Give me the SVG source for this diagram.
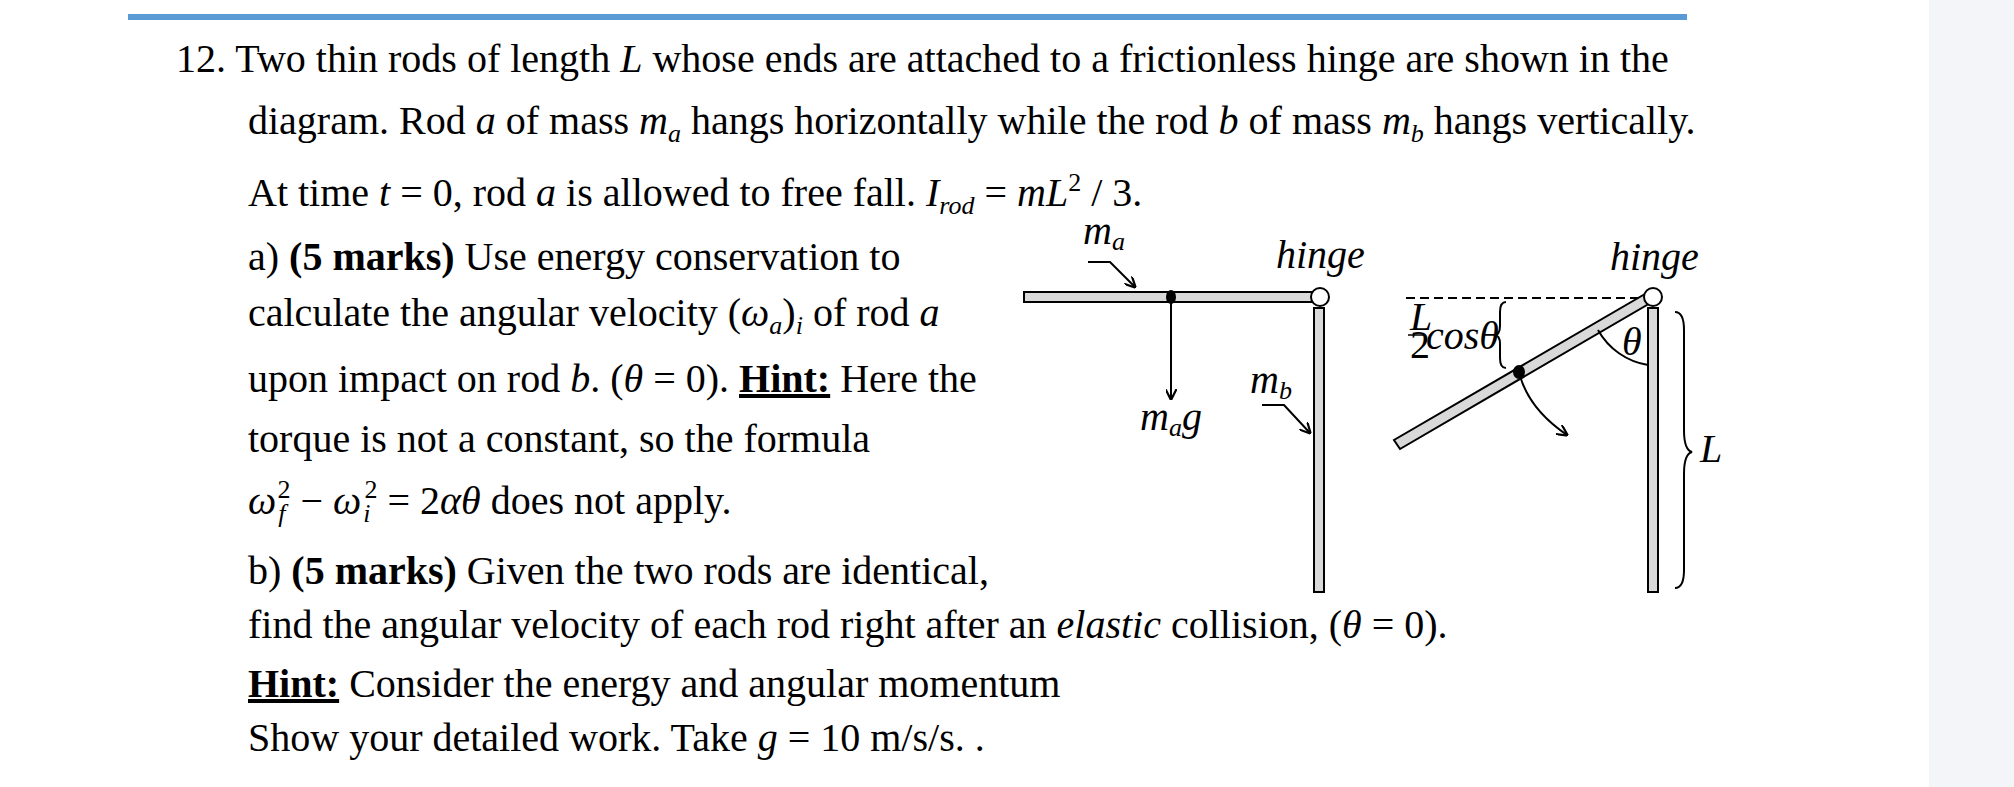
<svg xmlns="http://www.w3.org/2000/svg" width="2014" height="787" viewBox="0 0 2014 787">
<style>
.t{font-family:"Liberation Serif",serif;font-size:40px;fill:#000}
.i{font-style:italic}
.b{font-weight:bold}
.s{font-size:26px}
.d{font-family:"Liberation Serif",serif;font-style:italic;font-size:40px;fill:#000}
.rod{fill:#d9d9d9;stroke:#000;stroke-width:2}
.ln{fill:none;stroke:#000;stroke-width:2}
</style>
<defs>
<marker id="ah" viewBox="0 0 10 10" refX="9" refY="5" markerWidth="11" markerHeight="11" orient="auto" markerUnits="userSpaceOnUse"><path d="M0,0 L10,5 L0,10" fill="none" stroke="#000" stroke-width="2"/></marker>
</defs>
<rect width="2014" height="787" fill="#fff"/>
<rect x="1929" y="0" width="85" height="787" fill="#f3f5f9"/>
<rect x="128" y="14" width="1559" height="6" fill="#5b9bd5"/>
<g id="text">
<text class="t" x="176" y="72">12. Two thin rods of length <tspan class="i">L</tspan> whose ends are attached to a frictionless hinge are shown in the</text>
<text class="t" x="248" y="134">diagram. Rod <tspan class="i">a</tspan> of mass <tspan class="i">m</tspan><tspan class="i s" dy="8">a</tspan><tspan dy="-8">  hangs horizontally while the rod </tspan><tspan class="i">b</tspan> of mass <tspan class="i">m</tspan><tspan class="i s" dy="8">b</tspan><tspan dy="-8">  hangs vertically.</tspan></text>
<text class="t" x="248" y="206">At time <tspan class="i">t</tspan> = 0,  rod <tspan class="i">a</tspan> is allowed to free fall. <tspan class="i">I</tspan><tspan class="i s" dy="8">rod</tspan><tspan dy="-8"> = </tspan><tspan class="i">mL</tspan><tspan class="s" dy="-15">2</tspan><tspan dy="15"> / 3.</tspan></text>
<text class="t" x="248" y="270">a) <tspan class="b">(5 marks)</tspan> Use energy conservation to</text>
<text class="t" x="248" y="326">calculate the angular velocity (<tspan class="i">ω</tspan><tspan class="i s" dy="8">a</tspan><tspan dy="-8">)</tspan><tspan class="i s" dy="8">i</tspan><tspan dy="-8"> of rod </tspan><tspan class="i">a</tspan></text>
<text class="t" x="248" y="392">upon impact on rod <tspan class="i">b</tspan>. (<tspan class="i">θ</tspan> = 0).  <tspan class="b" text-decoration="underline">Hint:</tspan> Here the</text>
<text class="t" x="248" y="452">torque is not a constant, so the formula</text>
<text class="t" x="248" y="514"><tspan class="i">ω</tspan><tspan class="i s" dx="2" dy="8">f</tspan><tspan class="s" dx="-8" dy="-24">2</tspan><tspan dy="16"> − </tspan><tspan class="i">ω</tspan><tspan class="i s" dx="2" dy="8">i</tspan><tspan class="s" dx="-6" dy="-24">2</tspan><tspan dy="16"> = 2</tspan><tspan class="i">αθ</tspan> does not apply.</text>
<text class="t" x="248" y="584">b) <tspan class="b">(5 marks)</tspan> Given the two rods are identical,</text>
<text class="t" x="248" y="638">find the angular velocity of each rod right after an <tspan class="i">elastic</tspan> collision, (<tspan class="i">θ</tspan> = 0).</text>
<text class="t" x="248" y="697"><tspan class="b" text-decoration="underline">Hint:</tspan> Consider the energy and angular momentum</text>
<text class="t" x="248" y="751">Show your detailed work. Take  <tspan class="i">g</tspan> = 10 m/s/s. .</text>
</g>
<g id="left-diagram">
<rect class="rod" x="1024" y="292" width="290" height="10"/>
<rect class="rod" x="1314" y="308" width="10" height="284"/>
<circle cx="1320" cy="297" r="9" fill="#fff" stroke="#000" stroke-width="2"/>
<ellipse cx="1171" cy="297" rx="5" ry="7" fill="#000"/>
<text class="d" x="1276" y="268">hinge</text>
<text class="d" x="1083" y="244">m<tspan font-size="26" dy="6">a</tspan></text>
<text class="d" x="1140" y="430">m<tspan font-size="26" dy="6">a</tspan><tspan dy="-6">g</tspan></text>
<text class="d" x="1250" y="393">m<tspan font-size="26" dy="6">b</tspan></text>
</g>
<g id="right-diagram">
<line x1="1406" y1="298" x2="1640" y2="298" stroke="#000" stroke-width="2" stroke-dasharray="9,5"/>
<polygon class="rod" points="1645,294 1652,302 1400,449 1394,440"/>
<rect class="rod" x="1648" y="308" width="10" height="284"/>
<circle cx="1653" cy="297" r="9" fill="#fff" stroke="#000" stroke-width="2"/>
<ellipse cx="1519" cy="372" rx="6" ry="7" fill="#000"/>
<path class="ln" d="M1598,330 A70,70 0 0 0 1648,365"/>
<text class="d" x="1622" y="355" font-size="36">θ</text>
<text class="d" x="1610" y="270">hinge</text>
<path class="ln" d="M1506,302 Q1500,302 1500,312 L1500,326 Q1500,335 1494,335 Q1500,335 1500,344 L1500,358 Q1500,368 1506,368"/>
<text class="d" x="1410" y="330" font-size="24">L</text>
<line x1="1408" y1="335" x2="1425" y2="335" stroke="#000" stroke-width="1.5"/>
<text class="t" x="1410" y="358" font-size="24">2</text>
<text class="d" x="1426" y="349" font-size="30">cosθ</text>
<path class="ln" d="M1675,312 Q1684,312 1684,330 L1684,430 Q1684,450 1692,452 Q1684,454 1684,474 L1684,570 Q1684,588 1675,588"/>
<text class="d" x="1700" y="462" font-size="34">L</text>
</g>
<g id="connectors">
<line class="ln" x1="1171" y1="302" x2="1171" y2="399" marker-end="url(#ah)"/>
<path class="ln" d="M1088,262 L1110,262 L1135,287" marker-end="url(#ah)"/>
<path class="ln" d="M1262,405 L1284,405 L1310,433" marker-end="url(#ah)"/>
<path class="ln" d="M1520,376 Q1530,410 1567,435" marker-end="url(#ah)"/>
</g>
</svg>
